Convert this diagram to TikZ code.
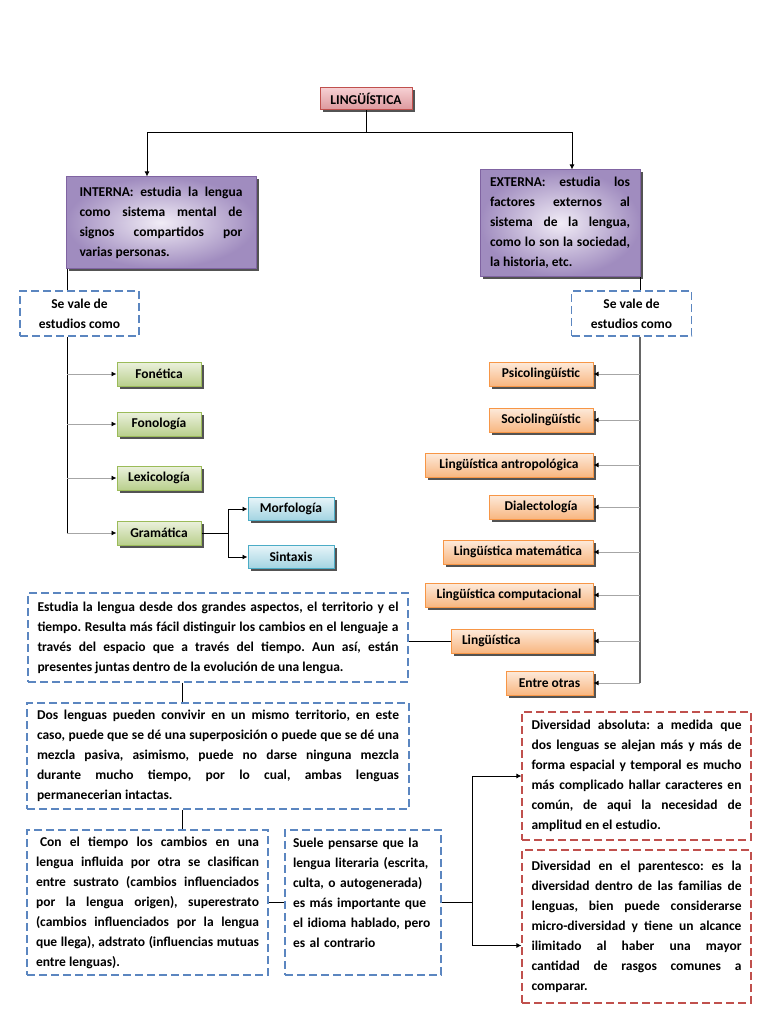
\documentclass[tikz,border=0pt]{standalone}
\usepackage{fontspec}
\setmainfont{Carlito}
\usetikzlibrary{calc,shadows,arrows.meta}
\hyphenpenalty=10000
\tolerance=9000
\emergencystretch=10pt
\frenchspacing
\definecolor{rojo}{HTML}{C0504D}
\definecolor{rosa1}{HTML}{F6CFD2}
\definecolor{rosa2}{HTML}{DC979C}
\definecolor{morado}{HTML}{8064A2}
\definecolor{lila1}{HTML}{F1ECF6}
\definecolor{lila2}{HTML}{A08CBF}
\definecolor{verdeb}{HTML}{9BBB59}
\definecolor{verde1}{HTML}{EBF1DD}
\definecolor{verde2}{HTML}{B9CF8C}
\definecolor{celeste}{HTML}{4BACC6}
\definecolor{cel1}{HTML}{E6F4F8}
\definecolor{cel2}{HTML}{A3D4E1}
\definecolor{naranja}{HTML}{F79646}
\definecolor{nar1}{HTML}{FDEADB}
\definecolor{nar2}{HTML}{F8B680}
\definecolor{azul}{HTML}{5B86C0}
\tikzset{>={Latex[length=5pt,width=5pt]}}
\tikzset{
  caja/.style={draw, line width=1pt, inner sep=0pt,
    font=\bfseries\fontsize{13.5}{20}\selectfont,
    drop shadow={shadow xshift=2.5pt, shadow yshift=-2.5pt, fill=black!75, opacity=.9}},
  raiz/.style={caja, draw=rojo, top color=rosa1, bottom color=rosa2,
    minimum width=92pt, minimum height=22pt},
  rama/.style={caja, draw=morado, inner color=lila1, outer color=lila2, align=justify},
  verde/.style={caja, draw=verdeb, top color=verde1, bottom color=verde2,
    minimum width=84pt, minimum height=24pt},
  azulc/.style={caja, draw=celeste, top color=cel1, bottom color=cel2,
    minimum width=86pt, minimum height=23pt},
  nar/.style={caja, draw=naranja, top color=nar1, bottom color=nar2, minimum height=24pt},
  nota/.style={draw=azul, line width=1.1pt, dash pattern=on 8pt off 4pt, fill=white,
    inner sep=0pt, font=\bfseries\fontsize{13.5}{20}\selectfont, align=justify},
  notar/.style={nota, draw=rojo},
  linea/.style={line width=.9pt},
  gris/.style={line width=.9pt, draw=black!35},
  punta/.style={-{Latex[black,length=5pt,width=5pt]}}
}
\begin{document}
\begin{tikzpicture}[x=1pt, y=-1pt]
\useasboundingbox (0,0) rectangle (768,1024);

% cabecera
\node[raiz] (ling) at (366,99) {LINGÜÍSTICA};
\node[rama, minimum width=190pt, minimum height=91pt, text width=163pt] (interna) at (161,222.5)
  {INTERNA: estudia la lengua\linebreak como sistema mental de\linebreak signos compartidos por\linebreak varias personas.};
\node[rama, minimum width=160pt, minimum height=106pt, text width=140pt] (externa) at (560,223)
  {EXTERNA: estudia los\linebreak factores externos al\linebreak sistema de la lengua,\linebreak como lo son la sociedad,\linebreak la historia, etc.};

\node[nota, align=center, minimum width=119pt, minimum height=45pt] (sv1) at (79.5,313.5)
  {Se vale de\\estudios como};
\node[nota, align=center, minimum width=120pt, minimum height=45pt] (sv2) at (631.5,313.5)
  {Se vale de\\estudios como};

% ramas internas
\node[verde] (fon) at (159,374) {Fonética};
\node[verde] (fonol) at (159,424) {Fonología};
\node[verde] (lex) at (159,478) {Lexicología};
\node[verde] (gram) at (159,533) {Gramática};
\node[azulc] (morf) at (291,509) {Morfología};
\node[azulc] (sint) at (291,557) {Sintaxis};

% ramas externas
\node[nar, minimum width=104pt] (psico) at (541,374) {Psicolingüístic};
\node[nar, minimum width=104pt] (socio) at (541,420) {Sociolingüístic};
\node[nar, minimum width=168pt] (antro) at (509,465) {Lingüística antropológica};
\node[nar, minimum width=104pt] (dial) at (541,507) {Dialectología};
\node[nar, minimum width=150pt] (mate) at (518,552) {Lingüística matemática};
\node[nar, minimum width=168pt] (comp) at (509,595) {Lingüística computacional};
\node[nar, minimum width=142pt, text width=120pt, align=left] (lin) at (522,641) {Lingüística};
\node[nar, minimum width=87pt] (otras) at (549.5,683) {Entre otras};

% notas
\node[nota, minimum width=380pt, minimum height=89pt, text width=361pt] (b1) at (218,637.5)
  {Estudia la lengua desde dos grandes aspectos, el territorio y el\linebreak tiempo. Resulta más fácil distinguir los cambios en el lenguaje a\linebreak través del espacio que a través del tiempo. Aun así, están\linebreak presentes juntas dentro de la evolución de una lengua.};
\node[nota, minimum width=382pt, minimum height=106pt, text width=362pt] (b2) at (218,756)
  {Dos lenguas pueden convivir en un mismo territorio, en este\linebreak caso, puede que se dé una superposición o puede que se dé una\linebreak mezcla pasiva, asimismo, puede no darse ninguna mezcla\linebreak durante mucho tiempo, por lo cual, ambas lenguas\linebreak permanecerian intactas.};
\node[nota, minimum width=241pt, minimum height=145pt, text width=223pt] (b3) at (147.5,902.5)
  {\hspace*{4pt}Con el tiempo los cambios en una\linebreak lengua influida por otra se clasifican\linebreak entre sustrato (cambios influenciados\linebreak por la lengua origen), superestrato\linebreak (cambios influenciados por la lengua\linebreak que llega), adstrato (influencias mutuas\linebreak entre lenguas).};
\node[nota, align=left, minimum width=156pt, minimum height=145pt, text width=140pt] (b4) at (363,902.5)
  {Suele pensarse que la\\lengua literaria (escrita,\\culta, o autogenerada)\\es más importante que\\el idioma hablado, pero\\es al contrario\\\mbox{}};
\node[notar, minimum width=229pt, minimum height=128pt, text width=210pt] (d1) at (636.5,776)
  {Diversidad absoluta: a medida que\linebreak dos lenguas se alejan más y más de\linebreak forma espacial y temporal es mucho\linebreak más complicado hallar caracteres en\linebreak común, de aqui la necesidad de\linebreak amplitud en el estudio.};
\node[notar, minimum width=229pt, minimum height=153pt, text width=210pt] (d2) at (636.5,926.5)
  {Diversidad en el parentesco: es la\linebreak diversidad dentro de las familias de\linebreak lenguas, bien puede considerarse\linebreak micro-diversidad y tiene un alcance\linebreak ilimitado al haber una mayor\linebreak cantidad de rasgos comunes a\linebreak comparar.};

% conectores
\coordinate (t) at (366,132);
\coordinate (lx) at (67,0);
\coordinate (rx) at (640,0);
\coordinate (gx) at (228,0);
\coordinate (bx) at (182,0);
\coordinate (dx) at (472,0);

\draw[linea, ->] (ling) -- (t) -| ([xshift=-14pt]interna.north);
\draw[linea, ->] (t) -| ([xshift=12pt]externa.north);

\draw[linea] (interna.south -| lx) -- (sv1.north -| lx);
\draw[linea] (sv1.south -| lx) -- (gram -| lx);
\path[gris]
(fon -| lx) edge[punta] (fon)
(fonol -| lx) edge[punta] (fonol)
(lex -| lx) edge[punta] (lex)
(gram -| lx) edge[punta] (gram)
;
\draw[linea] (gram) -- (gram -| gx);
\draw[linea, ->] (gram -| gx) |- (morf);
\draw[linea, ->] (gram -| gx) |- (sint);

\draw[linea] (externa.south -| rx) -- (sv2.north -| rx);
\draw[line width=1.3pt, black!60] (sv2.south -| rx) -- (otras -| rx);
\path[gris]
(psico -| rx) edge[punta] (psico)
(socio -| rx) edge[punta] (socio)
(antro -| rx) edge[punta] (antro)
(dial -| rx) edge[punta] (dial)
(mate -| rx) edge[punta] (mate)
(comp -| rx) edge[punta] (comp)
(lin -| rx) edge[punta] (lin)
(otras -| rx) edge[punta] (otras)
;

\draw[linea] (lin) -- (lin -| b1.east);
\draw[linea] (b1.south -| bx) -- (b2.north -| bx);
\draw[linea] (b2.south -| bx) -- (b3.north -| bx);
\draw[linea] (b3) -- (b4);
\draw[linea] (b4) -- (b4 -| dx);
\draw[linea, ->] (b4 -| dx) |- (d1);
\draw[linea, ->] (b4 -| dx) |- ([yshift=-19pt]d2.west);
\end{tikzpicture}
\end{document}
